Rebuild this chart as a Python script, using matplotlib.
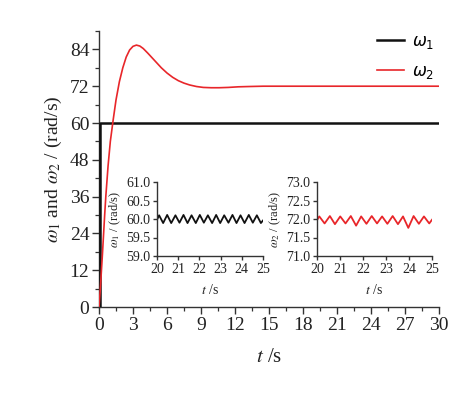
import matplotlib
matplotlib.use("Agg")
import matplotlib.pyplot as plt
from matplotlib.font_manager import FontProperties
from matplotlib.ticker import MultipleLocator

plt.rcParams['font.family'] = ['Liberation Serif', 'DejaVu Serif']
plt.rcParams['mathtext.fontset'] = 'stix'

# ---- data ----
# omega_1: step to 60 rad/s
t_w1 = [0.0, 0.09, 0.09, 30.0]
w1 = [0.0, 0.0, 60.0, 60.0]

# omega_2: rise, overshoot and settle to 72 rad/s
t_w2 = [0.0, 0.1, 0.2, 0.3, 0.4, 0.5, 0.6, 0.8, 1.0, 1.25, 1.5, 1.8, 2.1, 2.4,
        2.7, 3.0, 3.3, 3.6, 3.9, 4.3, 4.7, 5.1, 5.5, 6.0, 6.5, 7.0, 7.5,
        8.0, 8.6, 9.2, 9.9, 10.6, 11.4, 12.3, 13.3, 14.5, 16.0, 18.0, 30.0]
w2 = [0.0, 5.0, 11.0, 17.0, 23.5, 30.0, 36.0, 46.0, 54.0, 61.0, 67.5, 73.5, 78.0, 81.5,
      83.8, 85.0, 85.4, 85.1, 84.3, 82.8, 81.2, 79.6, 78.0, 76.3, 74.9, 73.8, 73.0,
      72.4, 71.9, 71.6, 71.5, 71.5, 71.6, 71.8, 71.9, 72.0, 72.0, 72.0, 72.0]

# inset ripples (20-25 s)
t_r1 = [20.00, 20.10, 20.29, 20.48, 20.67, 20.87, 21.06, 21.25, 21.44, 21.63,
        21.83, 22.02, 22.21, 22.40, 22.60, 22.79, 22.98, 23.17, 23.37, 23.56,
        23.75, 23.94, 24.13, 24.33, 24.52, 24.71, 24.90, 25.00]
r1 = [59.98, 60.10, 59.89, 60.11, 59.89, 60.10, 59.90, 60.11, 59.89, 60.10,
      59.89, 60.11, 59.90, 60.10, 59.89, 60.11, 59.89, 60.10, 59.90, 60.11,
      59.89, 60.10, 59.89, 60.11, 59.90, 60.10, 59.89, 59.96]

t_r2 = [20.00, 20.10, 20.33, 20.56, 20.78, 21.01, 21.24, 21.47, 21.70, 21.92,
        22.15, 22.38, 22.61, 22.83, 23.06, 23.29, 23.52, 23.74, 23.97, 24.20,
        24.43, 24.65, 24.88, 25.00]
r2 = [71.97, 72.07, 71.88, 72.08, 71.86, 72.07, 71.88, 72.08, 71.82, 72.07,
      71.87, 72.08, 71.88, 72.07, 71.87, 72.08, 71.86, 72.07, 71.76, 72.08,
      71.87, 72.07, 71.88, 71.98]

main_xticks = [0, 3, 6, 9, 12, 15, 18, 21, 24, 27, 30]
main_yticks = [0, 12, 24, 36, 48, 60, 72, 84]
inset_xticks = [20, 21, 22, 23, 24, 25]
inset1_yticks = [59.0, 59.5, 60.0, 60.5, 61.0]
inset2_yticks = [71.0, 71.5, 72.0, 72.5, 73.0]

BLACK = '#111111'
RED = '#e8262a'

fig = plt.figure(figsize=(4.74, 3.95), dpi=100)
W, H = 474.0, 395.0

def style(a, fs, minor_x=None, minor_y=None, tl=5, mtl=3):
    for s in ('top', 'right'):
        a.spines[s].set_visible(False)
    for s in ('left', 'bottom'):
        a.spines[s].set_color('#333333')
        a.spines[s].set_linewidth(1.0)
    a.tick_params(which='major', direction='out', length=tl, width=1.0,
                  labelsize=fs, colors='#333333', labelcolor='#222222', pad=2)
    a.tick_params(which='minor', direction='out', length=mtl, width=0.9,
                  colors='#333333')
    if minor_x:
        a.xaxis.set_minor_locator(MultipleLocator(minor_x))
    if minor_y:
        a.yaxis.set_minor_locator(MultipleLocator(minor_y))

# main axes
ax = fig.add_axes([99 / W, 1 - 307 / H, 340 / W, 276 / H])
ax.plot(t_w1, w1, color=BLACK, lw=1.8, label=r'$\omega_1$', zorder=3)
ax.plot(t_w2, w2, color=RED, lw=1.2, label=r'$\omega_2$', zorder=4)
ax.set_xlim(0, 30)
ax.set_ylim(0, 90)
ax.set_xticks(main_xticks)
ax.set_yticks(main_yticks)
style(ax, 14, minor_x=1.5, minor_y=6)
ax.set_xlabel(r'$t$ /s', fontsize=15, labelpad=10, color='#222222')
ax.set_ylabel(r'$\omega_1$ and $\omega_2$ / (rad/s)', fontsize=14, labelpad=4,
              color='#222222')

leg_prop = FontProperties(family='DejaVu Sans', size=12, math_fontfamily='dejavusans')
ax.legend(loc='upper right', bbox_to_anchor=(1.03, 1.05), frameon=False,
          prop=leg_prop, handlelength=1.6, labelspacing=0.65, handletextpad=0.5)

# inset 1
a1 = fig.add_axes([157 / W, 1 - 256 / H, 106 / W, 74 / H])
a1.plot(t_r1, r1, color=BLACK, lw=1.3)
a1.set_xlim(20, 25)
a1.set_ylim(59.0, 61.0)
a1.set_xticks(inset_xticks)
a1.set_yticks(inset1_yticks)
a1.set_yticklabels(['%.1f' % v for v in inset1_yticks])
style(a1, 10, tl=3, mtl=2)
a1.set_xlabel(r'$t$ /s', fontsize=10, labelpad=5, color='#222222')
a1.set_ylabel(r'$\omega_1$ / (rad/s)', fontsize=9, labelpad=2, color='#222222')

# inset 2
a2 = fig.add_axes([317 / W, 1 - 256 / H, 115 / W, 74 / H])
a2.plot(t_r2, r2, color=RED, lw=1.3)
a2.set_xlim(20, 25)
a2.set_ylim(71.0, 73.0)
a2.set_xticks(inset_xticks)
a2.set_yticks(inset2_yticks)
a2.set_yticklabels(['%.1f' % v for v in inset2_yticks])
style(a2, 10, tl=3, mtl=2)
a2.set_xlabel(r'$t$ /s', fontsize=10, labelpad=5, color='#222222')
a2.set_ylabel(r'$\omega_2$ / (rad/s)', fontsize=9, labelpad=2, color='#222222')

fig.savefig('out.png', dpi=100, facecolor='white')
